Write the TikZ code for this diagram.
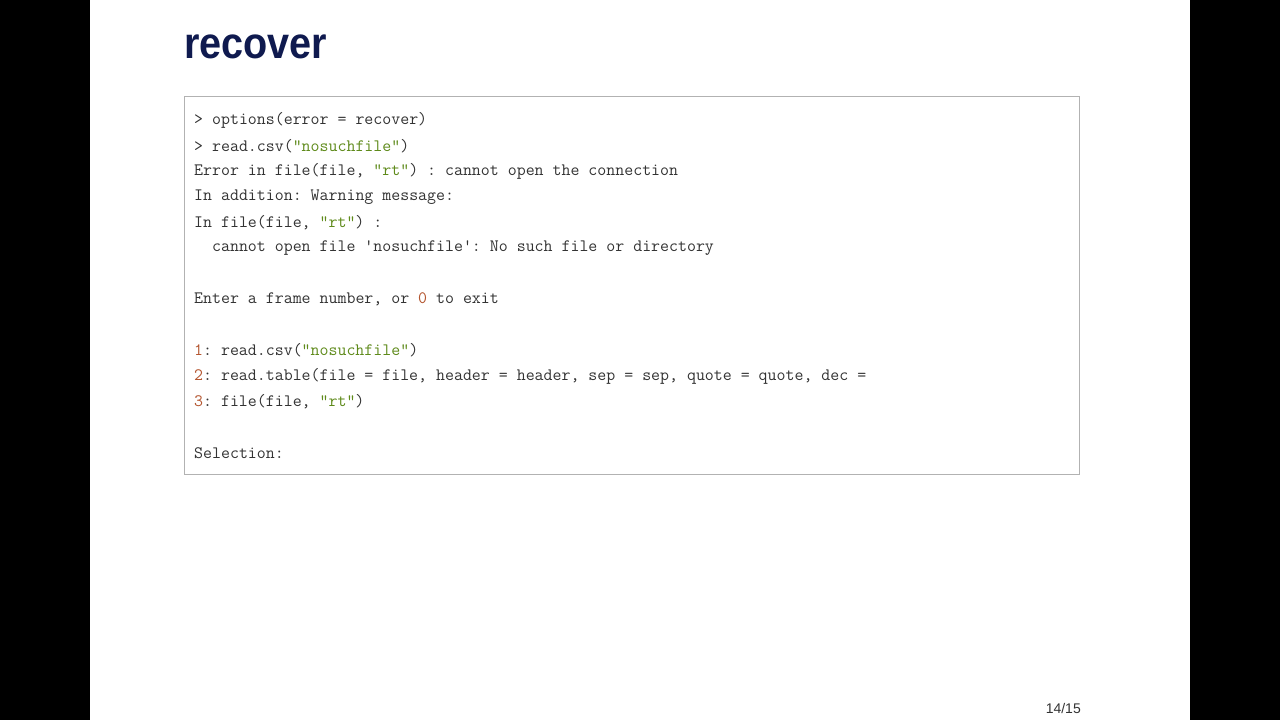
\documentclass[tikz,border=0pt]{standalone}
\usepackage{fontspec}
\setmainfont{Liberation Sans}
\setsansfont{Liberation Sans}
\setmonofont{Latin Modern Mono}
\usepackage{xcolor}
\definecolor{titleblue}{HTML}{0F1A4F}
\definecolor{strgreen}{HTML}{5E8A1A}
\definecolor{numred}{HTML}{B4552F}
\definecolor{codegray}{HTML}{333333}
\newcommand{\rstr}[1]{\textcolor{strgreen}{#1}}
\newcommand{\rnum}[1]{\textcolor{numred}{#1}}
\begin{document}
\begin{tikzpicture}[x=1pt,y=-1pt]
\tikzstyle{every node}+=[inner sep=0pt]
\tikzset{code/.style={anchor=west,font=\fontsize{17.4}{18}\ttfamily,text=codegray}}
\useasboundingbox (0,0) rectangle (1280,720);
\fill [black] (0,0) rectangle (90,720);
\fill [black] (1190,0) rectangle (1280,720);
\fill [white] (90,0) rectangle (1190,720);
\node [anchor=west,font=\fontsize{44}{46}\sffamily\bfseries,text=titleblue,xscale=0.9] (title) at (184,47) {recover};
\draw [gray!60,fill=white] (184,96) rectangle (1079,474);
\node [code] (l1) at (194,120) {> options(error = recover)};
\node [code] (l2) at (194,146) {> read.csv(\rstr{"nosuchfile"})};
\node [code] (l3) at (194,171) {Error in file(file, \rstr{"rt"}) : cannot open the connection};
\node [code] (l4) at (194,197) {In addition: Warning message:};
\node [code] (l5) at (194,223) {In file(file, \rstr{"rt"}) :};
\node [code] (l6) at (194,248) {\ \ cannot open file 'nosuchfile': No such file or directory};
\node [code] (l7) at (194,299) {Enter a frame number, or \rnum{0} to exit};
\node [code] (l8) at (194,350) {\rnum{1}: read.csv(\rstr{"nosuchfile"})};
\node [code] (l9) at (194,376) {\rnum{2}: read.table(file = file, header = header, sep = sep, quote = quote, dec =};
\node [code] (l10) at (194,402) {\rnum{3}: file(file, \rstr{"rt"})};
\node [code] (l11) at (194,453) {Selection:};
\node [anchor=east,font=\fontsize{14}{16}\sffamily,text=codegray] (page) at (1081,708) {14/15};
\end{tikzpicture}
\end{document}
